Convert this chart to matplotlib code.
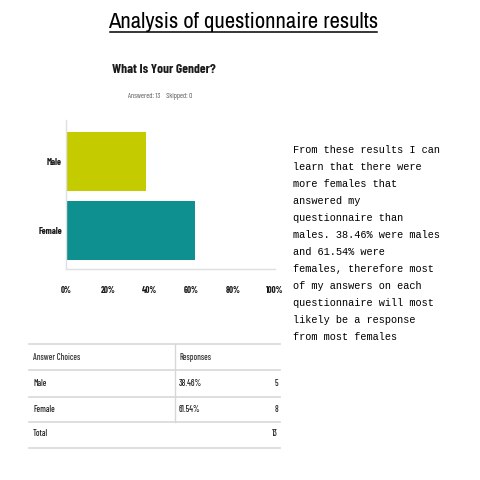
import matplotlib
matplotlib.use('Agg')
import matplotlib.pyplot as plt
from matplotlib import font_manager

# data
categories = ['Male', 'Female']
percent = [38.46, 61.54]
counts = [5, 8]
answered = 13
skipped = 0
xticks = [0, 20, 40, 60, 80, 100]
bar_colors = ['#c4cc00', '#0e9090']

summary = ("From these results I can\n"
           "learn that there were\n"
           "more females that\n"
           "answered my\n"
           "questionnaire than\n"
           "males. 38.46% were males\n"
           "and 61.54% were\n"
           "females, therefore most\n"
           "of my answers on each\n"
           "questionnaire will most\n"
           "likely be a response\n"
           "from most females")

names = {f.name for f in font_manager.fontManager.ttflist}

def pick(cands):
    return [c for c in cands if c in names] + ['DejaVu Sans']

narrow = pick(['Archivo Narrow', 'PT Sans Narrow', 'Liberation Sans'])
cond = pick(['Barlow Condensed', 'Asap Condensed', 'Liberation Sans'])
mono = pick(['Liberation Mono'])

W = 480.0
fig = plt.figure(figsize=(4.8, 4.8), dpi=100)

def px(x, y):
    return x / W, 1 - y / W

# title + underline
fig.text(*px(243.5, 28), 'Analysis of questionnaire results', ha='center', va='baseline',
         family=narrow, fontsize=16.3, color='black')
fig.add_artist(plt.Line2D([110 / W, 377 / W], [1 - 31.5 / W] * 2, color='black', lw=1.1))

fig.text(*px(112, 73), 'What Is Your Gender?', ha='left', va='baseline',
         family=cond, fontsize=9.6, fontweight='bold', color='#1a1a1a')
fig.text(*px(128, 98), 'Answered: %d    Skipped: %d' % (answered, skipped), ha='left', va='baseline',
         family=cond, fontsize=5.3, color='#555555')

# bar chart
ax = fig.add_axes([66 / W, 1 - 269 / W, (275 - 66) / W, (269 - 120) / W])
ypos = [1, 0]
ax.barh(ypos, percent, height=0.855, color=bar_colors)
ax.set_xlim(0, 100)
ax.set_ylim(-0.558, 1.60)
ax.set_xticks(xticks)
ax.set_xticklabels(['%d%%' % t for t in xticks])
ax.set_yticks(ypos)
ax.set_yticklabels(categories)
for s in ['top', 'right']:
    ax.spines[s].set_visible(False)
for s in ['left', 'bottom']:
    ax.spines[s].set_color('#e0e0e0')
    ax.spines[s].set_linewidth(1)
ax.tick_params(axis='both', length=0, labelsize=6.5, colors='#1a1a1a')
ax.tick_params(axis='x', pad=12)
ax.tick_params(axis='y', pad=3)
for lab in ax.get_xticklabels() + ax.get_yticklabels():
    lab.set_family(cond)
    lab.set_fontweight('bold')

# summary table
line_ys = [344, 370, 397, 422, 448]
for ly in line_ys:
    fig.add_artist(plt.Line2D([29 / W, 280 / W], [1 - ly / W] * 2, color='#d8d8d8', lw=1.2))
fig.add_artist(plt.Line2D([175 / W] * 2, [1 - 344 / W, 1 - 422 / W], color='#d8d8d8', lw=1))

tfs = 6.2
tkw = dict(va='center', family=cond, fontsize=tfs, fontweight='medium')
fig.text(*px(33, 358), 'Answer Choices', ha='left', color='#333333', **tkw)
fig.text(*px(179, 358), 'Responses', ha='left', color='#333333', **tkw)
row_ys = [384, 409]
for cat, p, c, ry in zip(categories, percent, counts, row_ys):
    fig.text(*px(33, ry), cat, ha='left', color='#222222', **tkw)
    fig.text(*px(179, ry), '%.2f%%' % p, ha='left', color='#222222', **tkw)
    fig.text(*px(278, ry), str(c), ha='right', color='#222222', **tkw)
fig.text(*px(33, 434), 'Total', ha='left', color='#222222', **tkw)
fig.text(*px(278, 434), str(sum(counts)), ha='right', color='#222222', **tkw)

# commentary on the right
fig.text(*px(293, 145), summary, ha='left', va='top', family=mono,
         fontsize=7.4, linespacing=1.87, color='black')

fig.savefig('out.png', dpi=100)
